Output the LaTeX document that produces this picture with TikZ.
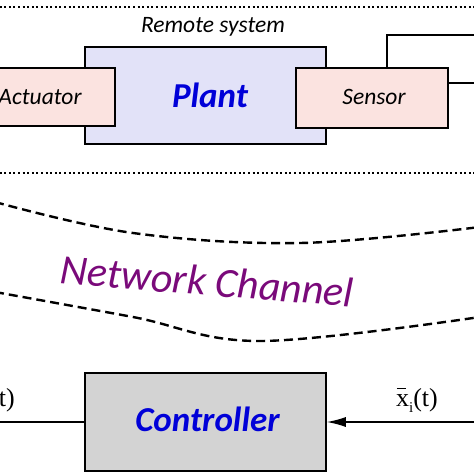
\documentclass[tikz,border=0pt]{standalone}
\usepackage{fontspec}
\setmainfont{Carlito}
\newfontfamily\tnr{Liberation Serif}
\usetikzlibrary{arrows.meta}
\definecolor{plantfill}{HTML}{E2E2F8}
\definecolor{pinkfill}{HTML}{FBE3E0}
\definecolor{ctrlfill}{HTML}{D3D3D3}
\definecolor{bluetext}{HTML}{0000D8}
\definecolor{purpletext}{HTML}{7A0A7A}
\begin{document}
\begin{tikzpicture}[x=1pt,y=-1pt,
  box/.style={draw=black,line width=1.5pt,inner sep=0pt,anchor=center},
  smalllabel/.style={font=\fontsize{23.5}{23.5}\selectfont\itshape},
  biglabel/.style={font=\fontsize{35}{35}\selectfont\bfseries\itshape,text=bluetext},
  wire/.style={line width=1.5pt},
  sepline/.style={line width=2pt,dash pattern=on 2pt off 2.6pt},
  chan/.style={line width=2.4pt,dash pattern=on 9pt off 5pt}]
\useasboundingbox (0,0) rectangle (474,474);
% separators
\draw[sepline] (-5,7) -- (480,7);
\draw[sepline] (-5,173) -- (480,173);
% remote system
\node[smalllabel] (remote) at (213,27) {Remote system};
\node[box,fill=plantfill,minimum width=241pt,minimum height=97pt] (plant) at (205.5,95.5) {};
\node[biglabel] (planttext) at (210,95) {Plant};
\node[box,fill=pinkfill,minimum width=145pt,minimum height=58pt] (actuator) at (42.5,97) {};
\node[smalllabel] (acttext) at (40,97) {Actuator};
\node[box,fill=pinkfill,minimum width=152pt,minimum height=60pt] (sensor) at (372,98) {};
\node[smalllabel] (sentext) at (374,97) {Sensor};
\coordinate (s1) at (480,35);
\coordinate (s2) at (480,83);
\draw[wire] ([xshift=15pt]sensor.north) |- (s1);
\draw[wire] ([yshift=15pt]sensor.east) -- (s2);
% network channel
\draw[chan] plot[smooth,tension=0.6] coordinates {(-5,202) (133,233) (300,243) (480,227)};
\draw[chan] plot[smooth,tension=0.6] coordinates {(-5,292) (133,317) (260,341) (480,317)};
\node[font=\fontsize{42}{42}\selectfont\itshape,text=purpletext,rotate=-4.5] (chan) at (207,281) {Network Channel};
% controller
\node[box,fill=ctrlfill,minimum width=241pt,minimum height=98pt] (controller) at (205.5,422) {};
\node[biglabel] (ctrltext) at (207.5,419) {Controller};
\coordinate (cin) at (480,422);
\coordinate (cout) at (-5,422);
\draw[wire,-{Latex[length=19pt,width=10pt]}] (cin) -- (controller.east);
\draw[wire] (controller.west) -- (cout);
\node[font=\tnr\fontsize{26}{26}\selectfont,inner sep=0pt] (xlabel) at (417,400) {\makebox[0pt][l]{\hspace{0.03em}\rule[0.68em]{0.36em}{0.06em}}x\raisebox{-0.22em}{\fontsize{15}{15}\selectfont i}(t)};
\node[font=\tnr\fontsize{26}{26}\selectfont,inner sep=0pt,anchor=east] (ulabel) at (15,400) {(t)};
\end{tikzpicture}
\end{document}
